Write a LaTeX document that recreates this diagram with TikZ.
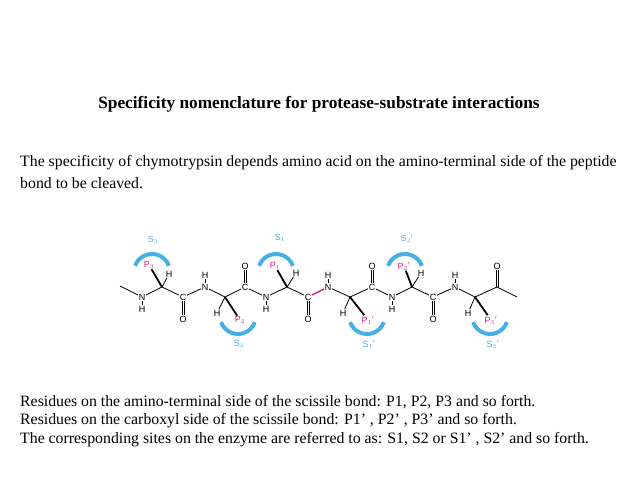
\documentclass[tikz,border=0pt]{standalone}
\usepackage{fontspec}
\setmainfont{Liberation Serif}
\newfontfamily\chemf{Liberation Sans}
\definecolor{sblue}{RGB}{70,175,230}
\definecolor{pmag}{RGB}{220,30,130}
\begin{document}
\begin{tikzpicture}[x=1pt,y=-1pt,
  atom/.style={font=\chemf\fontsize{9}{10}\selectfont,inner sep=0.5pt},
  pl/.style={atom,text=pmag},
  sl/.style={atom,text=sblue},
  bond/.style={line width=0.8pt},
  dbl/.style={line width=0.7pt},
  pocket/.style={sblue,line width=4pt},
  txt/.style={anchor=west,inner sep=0,font=\fontsize{15.8}{18}\selectfont}]
\useasboundingbox (0,0) rectangle (638,479);
\node[font=\bfseries\fontsize{17.3}{19}\selectfont] (title) at (319,104) {Specificity nomenclature for protease-substrate interactions};
\node[txt] (p1) at (20,163) {The specificity of chymotrypsin depends amino acid on the amino-terminal side of the peptide};
\node[txt] (p2) at (20,183) {bond to be cleaved.};
\node[txt] (b1) at (20,402) {Residues on the amino-terminal side of the scissile bond: P1, P2, P3 and so forth.};
\node[txt] (b2) at (20,421) {Residues on the carboxyl side of the scissile bond: P1' , P2' , P3'  and so forth.};
\node[txt] (b3) at (20,440) {The corresponding sites on the enzyme are referred to as: S1, S2 or S1' , S2'  and so forth.};
% backbone
\coordinate (st) at (120,286);
\node[atom] (N1) at (142,297) {N}; \node[atom] (HN1) at (142,309) {H};
\coordinate (A1) at (162,287);
\node[atom] (C1) at (183,297) {C}; \node[atom] (O1) at (183,319) {O};
\node[atom] (N2) at (205,287) {N}; \node[atom] (HN2) at (205,275) {H};
\coordinate (A2) at (225,297);
\node[atom] (C2) at (245,287) {C}; \node[atom] (O2) at (245,266) {O};
\node[atom] (N3) at (266,297) {N}; \node[atom] (HN3) at (266,309) {H};
\coordinate (A3) at (287,287);
\node[atom] (C3) at (308,297) {C}; \node[atom] (O3) at (308,319) {O};
\node[atom] (N4) at (328,287) {N}; \node[atom] (HN4) at (328,275) {H};
\coordinate (A4) at (350,297);
\node[atom] (C4) at (372,287) {C}; \node[atom] (O4) at (372,266) {O};
\node[atom] (N5) at (392,297) {N}; \node[atom] (HN5) at (392,309) {H};
\coordinate (A5) at (412,287);
\node[atom] (C5) at (433,297) {C}; \node[atom] (O5) at (433,319) {O};
\node[atom] (N6) at (455,287) {N}; \node[atom] (HN6) at (455,275) {H};
\coordinate (A6) at (475,297);
\coordinate (C6) at (497,287); \node[atom] (O6) at (497,266) {O};
\coordinate (en) at (517,297);
\draw[bond] (st)--(N1)--(A1)--(C1)--(N2)--(A2)--(C2)--(N3)--(A3)--(C3);
\draw[pmag,line width=1.5pt] (C3)--(N4);
\draw[bond] (N4)--(A4)--(C4)--(N5)--(A5)--(C5)--(N6)--(A6)--(C6)--(en);
\foreach \n in {1,...,6}{\draw[bond] (N\n)--(HN\n);}
\foreach \c in {1,...,6}{
  \draw[dbl,transform canvas={xshift=-1.1pt}] (C\c)--(O\c);
  \draw[dbl,transform canvas={xshift=1.1pt}] (C\c)--(O\c);}
% side chains
\node[pl] (P3) at (149,265) {P$_3$}; \node[atom] (H1) at (169,274) {H};
\node[pl] (P2) at (240,320) {P$_2$}; \node[atom] (H2) at (217,313) {H};
\node[pl] (P1) at (275,266) {P$_1$}; \node[atom] (H3) at (296,273) {H};
\node[pl] (P1p) at (368,320) {P$_1$$'$}; \node[atom] (H4) at (343,313) {H};
\node[pl] (P2p) at (404,266) {P$_2$$'$}; \node[atom] (H5) at (421,273) {H};
\node[pl] (P3p) at (491,320) {P$_3$$'$}; \node[atom] (H6) at (468,313) {H};
\foreach \a/\p in {1/P3,2/P2,3/P1,4/P1p,5/P2p,6/P3p}{
  \draw[line width=1.8pt] (A\a)--(\p);
  \draw[bond] (A\a)--(H\a);}
% pockets
\foreach \cx in {152,276,405}{\draw[pocket] (\cx,272) ++(200:18) arc (200:340:18);}
\foreach \cx in {238,367,490}{\draw[pocket] (\cx,316) ++(160:18) arc (160:20:18);}
\node[sl] (S3) at (153,240) {S$_3$};
\node[sl] (S1) at (280,238) {S$_1$};
\node[sl] (S2p) at (407,238) {S$_2$$'$};
\node[sl] (S2) at (239,344) {S$_2$};
\node[sl] (S1p) at (369,344) {S$_1$$'$};
\node[sl] (S3p) at (493,344) {S$_3$$'$};
\end{tikzpicture}
\end{document}
